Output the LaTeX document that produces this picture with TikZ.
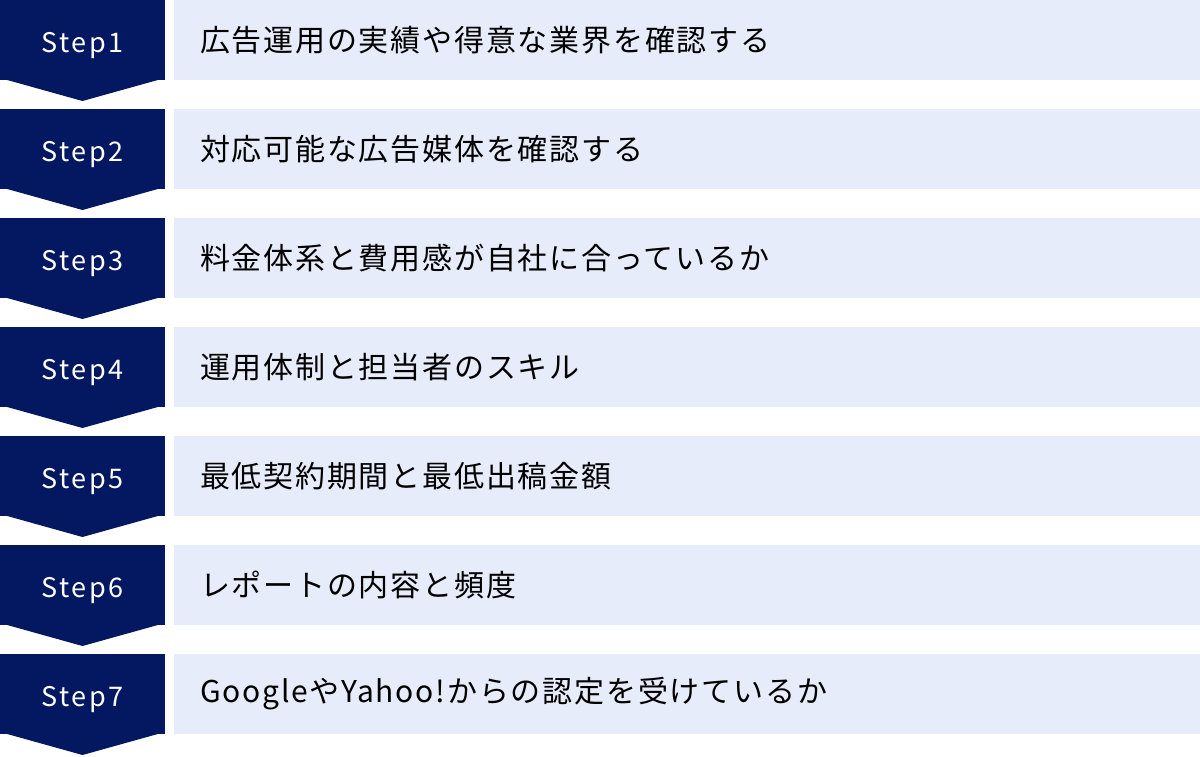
\documentclass[tikz,border=0pt]{standalone}
\usepackage{fontspec}
\setmainfont{Noto Sans CJK JP}
\newfontfamily\stepfont[LetterSpace=10]{Noto Sans CJK JP}
\newfontfamily\itemfont[LetterSpace=6]{Noto Sans CJK JP}
\usepackage{tikz}
\usetikzlibrary{calc,positioning}
\definecolor{stepnavy}{HTML}{041862}
\definecolor{itemblue}{HTML}{E6ECF9}
\tikzstyle{stepbox} = [fill=stepnavy, text=white, minimum width=82.5pt, minimum height=40pt, inner sep=0pt, outer sep=0pt, text height=12pt, text depth=0pt, font=\stepfont\fontsize{13.5pt}{16pt}\selectfont]
\tikzstyle{itembox} = [fill=itemblue, text=black, minimum height=40pt, text width=487pt, inner xsep=13pt, inner ysep=0pt, outer sep=0pt, align=left, font=\itemfont\fontsize{15pt}{18pt}\selectfont]
\tikzstyle{tail} = [fill=stepnavy]

\begin{document}
\begin{tikzpicture}[x=0.5pt,y=-0.5pt]
\useasboundingbox (0,0) rectangle (1200,756);
% step markers
\node[stepbox] (s1) at (82.5,40) {Step1};
\node[stepbox, below=14.5pt of s1] (s2) {Step2};
\node[stepbox, below=14.5pt of s2] (s3) {Step3};
\node[stepbox, below=14.5pt of s3] (s4) {Step4};
\node[stepbox, below=14.5pt of s4] (s5) {Step5};
\node[stepbox, below=14.5pt of s5] (s6) {Step6};
\node[stepbox, below=14.5pt of s6] (s7) {Step7};
% the pointed tails
\fill[tail] ($(s1.south west)+(0,-2)$) -- ($(s1.south east)+(0,-2)$) -- ($(s1.south)+(0,21)$) -- cycle;
\fill[tail] ($(s2.south west)+(0,-2)$) -- ($(s2.south east)+(0,-2)$) -- ($(s2.south)+(0,21)$) -- cycle;
\fill[tail] ($(s3.south west)+(0,-2)$) -- ($(s3.south east)+(0,-2)$) -- ($(s3.south)+(0,21)$) -- cycle;
\fill[tail] ($(s4.south west)+(0,-2)$) -- ($(s4.south east)+(0,-2)$) -- ($(s4.south)+(0,21)$) -- cycle;
\fill[tail] ($(s5.south west)+(0,-2)$) -- ($(s5.south east)+(0,-2)$) -- ($(s5.south)+(0,21)$) -- cycle;
\fill[tail] ($(s6.south west)+(0,-2)$) -- ($(s6.south east)+(0,-2)$) -- ($(s6.south)+(0,21)$) -- cycle;
\fill[tail] ($(s7.south west)+(0,-2)$) -- ($(s7.south east)+(0,-2)$) -- ($(s7.south)+(0,21)$) -- cycle;
% items
\node[itembox, right=4.5pt of s1] (i1) {広告運用の実績や得意な業界を確認する};
\node[itembox, right=4.5pt of s2] (i2) {対応可能な広告媒体を確認する};
\node[itembox, right=4.5pt of s3] (i3) {料金体系と費用感が自社に合っているか};
\node[itembox, right=4.5pt of s4] (i4) {運用体制と担当者のスキル};
\node[itembox, right=4.5pt of s5] (i5) {最低契約期間と最低出稿金額};
\node[itembox, right=4.5pt of s6] (i6) {レポートの内容と頻度};
\node[itembox, right=4.5pt of s7] (i7) {GoogleやYahoo!からの認定を受けているか};
\end{tikzpicture}
\end{document}
